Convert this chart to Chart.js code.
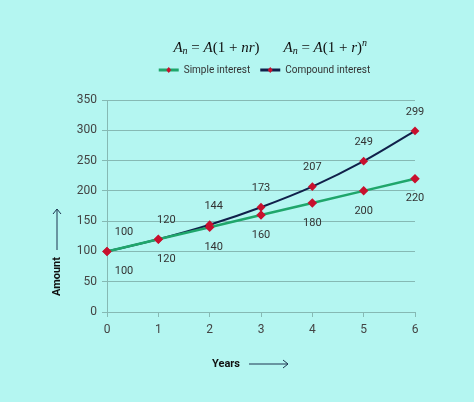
<!DOCTYPE html>
<html>
<head>
<meta charset="utf-8">
<script src="https://cdn.jsdelivr.net/npm/chart.js@4.4.1/dist/chart.umd.min.js"></script>
<style>
  html, body { margin: 0; padding: 0; background: #b4f6f1; }
</style>
</head>
<body>
<canvas id="chart" width="474" height="402"></canvas>
<script>
// data
const years = ['0', '1', '2', '3', '4', '5', '6'];
const simpleInterest = [100, 120, 140, 160, 180, 200, 220];
const compoundInterest = [100, 120, 144, 173, 207, 249, 299];
const seriesNames = ['Simple interest', 'Compound interest'];

const BG = '#b4f6f1';
const GREEN = '#1fa66b';
const NAVY = '#10204a';
const RED = '#c8102e';
const GRID = '#86b9b4';

// value labels: compound above the point, simple below
const valueLabels = {
  id: 'valueLabels',
  afterDatasetsDraw(chart) {
    const ctx = chart.ctx;
    const dx = [17, 8, 4, 0, 0, 0, 0];
    ctx.save();
    ctx.font = '11px Roboto';
    ctx.fillStyle = '#333';
    ctx.textAlign = 'center';
    ctx.textBaseline = 'middle';
    chart.data.datasets.forEach((ds, i) => {
      const meta = chart.getDatasetMeta(i);
      meta.data.forEach((pt, j) => {
        const off = i === 0 ? 20 : -19;
        ctx.fillText(String(ds.data[j]), pt.x + dx[j], pt.y + off);
      });
    });
    ctx.restore();
  }
};

function drawSegments(ctx, segs, cx, y) {
  const fontFor = s => (s.i ? 'italic ' : '') + (s.small ? '10px' : '15px') + ' "Liberation Serif"';
  let total = 0;
  segs.forEach(s => { ctx.font = fontFor(s); total += ctx.measureText(s.t).width; });
  let x = cx - total / 2;
  segs.forEach(s => {
    ctx.font = fontFor(s);
    ctx.fillText(s.t, x, y + (s.dy || 0));
    x += ctx.measureText(s.t).width;
  });
}

// formulas above the legend, diamonds on legend lines, axis titles with arrows
const decorations = {
  id: 'decorations',
  afterLayout(chart) {
    // legend sits right of centre and higher up in the original
    const lg = chart.legend;
    lg.left += 37; lg.right += 37;
    lg.top -= 15; lg.bottom -= 15;
  },
  beforeDraw(chart) {
    const ctx = chart.ctx;
    ctx.save();
    ctx.fillStyle = BG;
    ctx.fillRect(0, 0, chart.width, chart.height);
    ctx.restore();
  },
  afterDraw(chart) {
    const ctx = chart.ctx;
    const boxes = chart.legend.legendHitBoxes;
    const area = chart.chartArea;
    ctx.save();

    // diamonds in the legend
    boxes.forEach(b => {
      const cx = b.left + 10, cy = b.top + b.height / 2;
      ctx.fillStyle = RED;
      ctx.beginPath();
      ctx.moveTo(cx, cy - 3); ctx.lineTo(cx + 2.5, cy);
      ctx.lineTo(cx, cy + 3); ctx.lineTo(cx - 2.5, cy);
      ctx.closePath(); ctx.fill();
    });

    // formulas
    ctx.fillStyle = '#111';
    ctx.textBaseline = 'middle';
    ctx.textAlign = 'left';
    const fy = boxes[0].top + boxes[0].height / 2 - 22;
    drawSegments(ctx, [
      { t: 'A', i: 1 }, { t: 'n', i: 1, small: 1, dy: 3 }, { t: ' = ' }, { t: 'A', i: 1 },
      { t: '(1 + ' }, { t: 'nr', i: 1 }, { t: ')' }
    ], boxes[0].left + boxes[0].width / 2 + 12, fy);
    drawSegments(ctx, [
      { t: 'A', i: 1 }, { t: 'n', i: 1, small: 1, dy: 3 }, { t: ' = ' }, { t: 'A', i: 1 },
      { t: '(1 + ' }, { t: 'r', i: 1 }, { t: ')' }, { t: 'n', i: 1, small: 1, dy: -5 }
    ], boxes[1].left + boxes[1].width / 2 + 10, fy);

    // axis titles
    ctx.fillStyle = '#111';
    ctx.strokeStyle = '#1c3550';
    ctx.lineWidth = 1;
    ctx.font = 'bold 11px Roboto';

    // y: "Amount" rotated, arrow pointing up
    const ax = area.left - 50;
    ctx.save();
    ctx.translate(ax, area.bottom - 16);
    ctx.rotate(-Math.PI / 2);
    ctx.textAlign = 'left';
    ctx.fillText('Amount', 0, 0);
    ctx.restore();
    const yTop = area.bottom - 103, yBot = area.bottom - 62;
    ctx.beginPath();
    ctx.moveTo(ax, yBot); ctx.lineTo(ax, yTop);
    ctx.moveTo(ax - 4, yTop + 5); ctx.lineTo(ax, yTop); ctx.lineTo(ax + 4, yTop + 5);
    ctx.stroke();

    // x: "Years" and arrow pointing right
    const ty = area.bottom + 52;
    ctx.textAlign = 'left';
    ctx.fillText('Years', area.left + 105, ty);
    const xL = area.left + 142, xR = area.left + 181;
    ctx.beginPath();
    ctx.moveTo(xL, ty); ctx.lineTo(xR, ty);
    ctx.moveTo(xR - 5, ty - 4); ctx.lineTo(xR, ty); ctx.lineTo(xR - 5, ty + 4);
    ctx.stroke();

    ctx.restore();
  }
};

new Chart(document.getElementById('chart'), {
  type: 'line',
  data: {
    labels: years,
    datasets: [
      {
        label: seriesNames[0],
        data: simpleInterest,
        borderColor: GREEN,
        backgroundColor: GREEN,
        borderWidth: 2.5,
        pointStyle: 'rectRot',
        pointRadius: 3,
        pointBackgroundColor: RED,
        pointBorderColor: RED,
        tension: 0
      },
      {
        label: seriesNames[1],
        data: compoundInterest,
        borderColor: NAVY,
        backgroundColor: NAVY,
        borderWidth: 2,
        pointStyle: 'rectRot',
        pointRadius: 3,
        pointBackgroundColor: RED,
        pointBorderColor: RED,
        cubicInterpolationMode: 'monotone'
      }
    ]
  },
  options: {
    responsive: false,
    animation: false,
    layout: { padding: { left: 40, right: 59, top: 70, bottom: 0 } },
    plugins: {
      legend: {
        display: true,
        position: 'top',
        labels: {
          boxWidth: 20,
          boxHeight: 3,
          padding: 10,
          color: '#333',
          font: { family: 'Roboto', size: 10 },
          generateLabels(chart) {
            return Chart.defaults.plugins.legend.labels.generateLabels(chart)
              .map(l => Object.assign(l, { lineWidth: 0 }));
          }
        }
      },
      tooltip: { enabled: false }
    },
    scales: {
      x: {
        afterFit(scale) { scale.height = 90; },
        grid: { display: true, drawOnChartArea: false, drawTicks: true, tickLength: 5, color: GRID },
        border: { color: GRID },
        ticks: { color: '#444', font: { family: 'Roboto', size: 12 }, padding: 6, maxRotation: 0 }
      },
      y: {
        min: 0,
        max: 350,
        afterFit(scale) { scale.width = 67; },
        grid: { color: GRID, tickLength: 5 },
        border: { color: GRID },
        ticks: { stepSize: 50, color: '#444', font: { family: 'Roboto', size: 12 }, padding: 5 }
      }
    }
  },
  plugins: [valueLabels, decorations]
});
</script>
</body>
</html>
